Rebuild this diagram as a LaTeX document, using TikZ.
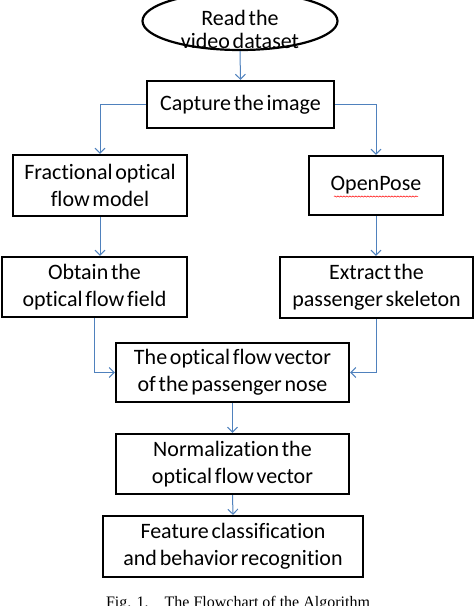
\documentclass[tikz,border=0pt]{standalone}
\usepackage{fontspec}
\setmainfont{Carlito}[Ligatures=NoCommon, Contextuals=NoAlternate, RawFeature=-liga, RawFeature=-calt, WordSpace=0.55]
\newfontfamily\capfont{Liberation Serif}
\usetikzlibrary{shapes.geometric,arrows.meta,decorations.pathmorphing}
\definecolor{arrowblue}{RGB}{79,129,189}
\tikzset{
  box/.style={draw=black, line width=2.2pt, rectangle, align=center, inner sep=0pt,
    font=\fontsize{22}{27}\selectfont},
  oval/.style={draw=black, line width=2.2pt, ellipse, inner sep=0pt},
  txt/.style={align=center, inner sep=0pt, font=\fontsize{22}{23}\selectfont},
  link/.style={draw=arrowblue, line width=1pt, -{Straight Barb[length=5pt,width=10pt]}},
}
\begin{document}
\begin{tikzpicture}[x=1pt,y=-1pt]
\useasboundingbox (0,0) rectangle (474,606);
\node[oval, minimum width=195pt, minimum height=58pt] (read) at (240,21) {};
\node[txt] (readtxt) at (240,29) {Read the\\video dataset};
\node[box, minimum width=187pt, minimum height=47pt] (cap) at (240.5,104.5) {Capture the image};
\node[box, minimum width=174pt, minimum height=61pt] (frac) at (100,185.5) {Fractional optical\\flow model};
\node[box, minimum width=134pt, minimum height=59pt] (open) at (376,185.5) {OpenPose};
\node[box, minimum width=185pt, minimum height=60pt] (obt) at (94.5,287) {Obtain the\\optical flow field};
\node[box, minimum width=193pt, minimum height=61pt] (ext) at (376.5,287.5) {Extract the\\passenger skeleton};
\node[box, minimum width=233pt, minimum height=59pt] (ofv) at (232.5,372.5) {The optical flow vector\\of the passenger nose};
\node[box, minimum width=233pt, minimum height=60pt] (norm) at (232.5,464) {Normalization the\\optical flow vector};
\node[box, minimum width=260pt, minimum height=61pt] (feat) at (233,546.5) {Feature classification\\and behavior recognition};
\node[anchor=base, font=\capfont\fontsize{16}{19}\selectfont] (cap2) at (238,607) {Fig. 1.\quad The Flowchart of the Algorithm};
\draw[red, line width=0.5pt, decorate, decoration={snake, amplitude=0.6pt, segment length=3pt}]
  ([xshift=-42pt,yshift=-11pt]open.center) -- ([xshift=42pt,yshift=-11pt]open.center);
\draw[link] (read.south) -- (cap.north);
\draw[link] (cap.west) -| (frac.north);
\draw[link] (cap.east) -| (open.north);
\draw[link] (frac.south) -- (frac.south |- obt.north);
\draw[link] (open.south) -- (open.south |- ext.north);
\draw[link] (obt.south) |- (ofv.west);
\draw[link] (ext.south) |- (ofv.east);
\draw[link] (ofv.south) -- (norm.north);
\draw[link] (norm.south) -- (feat.north);
\end{tikzpicture}
\end{document}
